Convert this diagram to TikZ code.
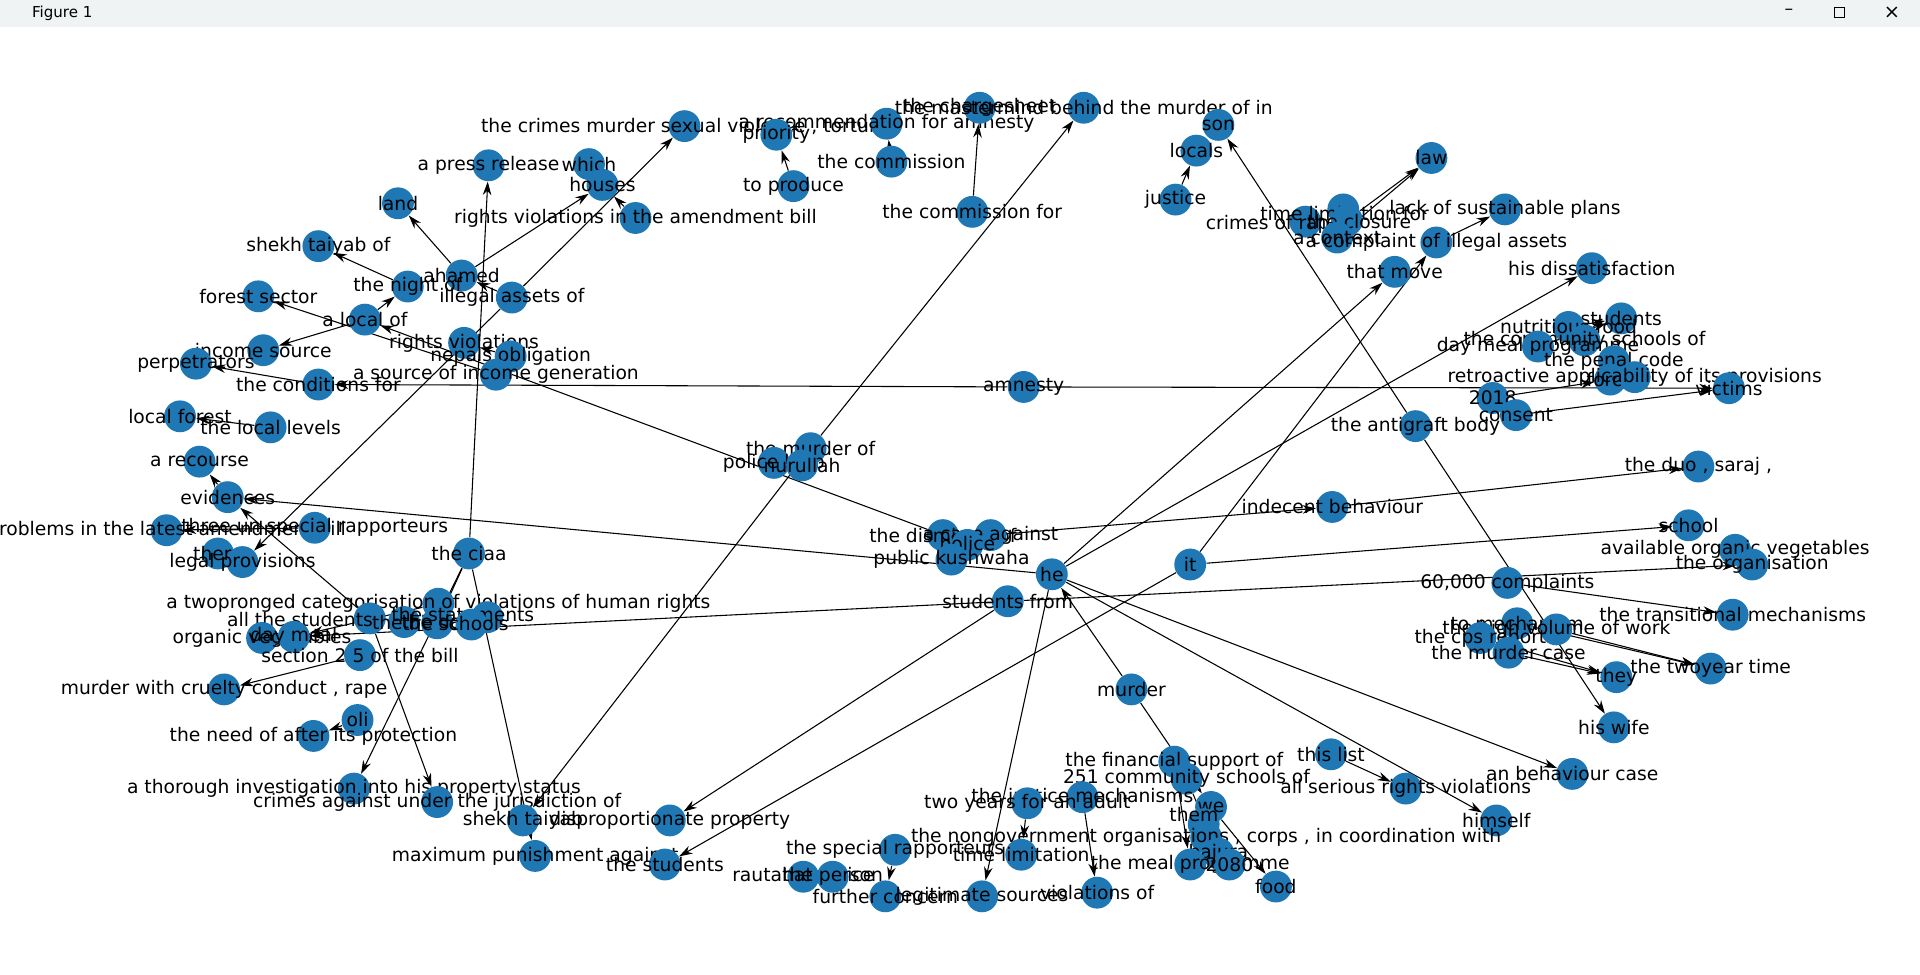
\documentclass[tikz,border=0pt]{standalone}
\usepackage{fontspec}
\setmainfont{DejaVu Sans}
\usetikzlibrary{arrows.meta}
\pgfdeclarelayer{bg}
\pgfdeclarelayer{paper}
\pgfsetlayers{paper,bg,main}
\definecolor{nblue}{HTML}{1F77B4}
\definecolor{tbar}{HTML}{F0F3F3}
\tikzset{
  nd/.style={circle,fill=nblue,draw=none,minimum size=0.52cm,inner sep=0pt},
  lb/.style={font=\fontsize{8.7}{10}\selectfont,inner sep=0pt,text=black},
  ed/.style={-{Stealth[length=0.22cm,width=0.14cm]},line width=0.5pt,black},
}
\newcommand\nd[4]{\node[nd] (#1) at (#2,#3) {};\node[lb] (l#1) at (#2,#3) {#4};}
\newcommand\ndl[6]{\node[nd] (#1) at (#2,#3) {};\node[lb] (l#1) at (#4,#5) {#6};}
\begin{document}
\begin{tikzpicture}[x=0.02cm,y=-0.02cm]
\useasboundingbox (0,0) rectangle (1568,796);
\begin{pgfonlayer}{paper}
\fill[white] (0,0) rectangle (1568,796);
\fill[tbar] (0,0) rectangle (1568,22);
\end{pgfonlayer}
\node[font=\fontsize{7}{8}\selectfont,anchor=west] (ttl) at (20,11) {Figure 1};
\node[font=\fontsize{8}{9}\selectfont] (bmin) at (1461,10) {–};
\node[draw,minimum size=0.16cm,inner sep=0pt,line width=0.4pt] (bmax) at (1502,10) {};
\node[font=\fontsize{9}{10}\selectfont] (bcls) at (1545,10) {×};
\clip (0,22) rectangle (1568,796);
% nodes
\nd{crimes}{559}{103}{the crimes murder sexual violence , torture}
\nd{recom}{724}{101}{a recommendation for amnesty}
\nd{prio}{634}{110}{priority}
\nd{comm}{728}{132}{the commission}
\nd{charge}{800}{88}{the chargesheet}
\nd{master}{885}{88}{the mastermind behind the murder of in}
\nd{press}{399}{135}{a press release}
\nd{which}{481}{134}{which}
\nd{houses}{492}{151}{houses}
\nd{produce}{648}{152}{to produce}
\nd{land}{325}{166}{land}
\nd{rvbill}{519}{178}{rights violations in the amendment bill}
\nd{shekhof}{260}{201}{shekh taiyab of}
\nd{ahamed}{377}{225}{ahamed}
\nd{night}{333}{234}{the night of}
\nd{illegal}{418}{243}{illegal assets of}
\nd{forest}{211}{242}{forest sector}
\nd{local}{298}{261}{a local of}
\nd{income}{215}{286}{income source}
\nd{rv}{379}{280}{rights violations}
\nd{nepal}{417}{291}{nepals obligation}
\nd{perp}{160}{297}{perpetrators}
\nd{source}{405}{306}{a source of income generation}
\nd{cond}{260}{314}{the conditions for}
\nd{lforest}{147}{340}{local forest}
\nd{llevels}{221}{349}{the local levels}
\nd{recourse}{163}{377}{a recourse}
\nd{murderof}{662}{366}{the murder of}
\nd{phelp}{632}{378}{police help}
\nd{nurullah}{655}{380}{nurullah}
\nd{son}{995}{102}{son}
\nd{locals}{977}{123}{locals}
\nd{justice}{960}{163}{justice}
\nd{law}{1169}{129}{law}
\nd{commfor}{794}{173}{the commission for}
\ndl{cr}{1066}{181}{1040}{183}{crimes of rape}
\ndl{tl}{1097}{171}{1098}{174}{time limitation for}
\ndl{clo}{1100}{180}{1110}{181}{the closure}
\nd{ctx}{1092}{194}{a context}
\nd{lack}{1229}{171}{lack of sustainable plans}
\nd{compl}{1173}{198}{a complaint of illegal assets}
\nd{move}{1139}{222}{that move}
\nd{diss}{1300}{219}{his dissatisfaction}
\nd{students}{1324}{260}{students}
\nd{nutri}{1281}{267}{nutritious food}
\nd{cschools}{1294}{278}{the community schools of}
\nd{daymeal}{1256}{283}{day meal programme}
\nd{penal}{1318}{295}{the penal code}
\nd{force}{1315}{310}{force}
\nd{retro}{1335}{308}{retroactive applicability of its provisions}
\nd{victims}{1412}{317}{victims}
\nd{yr}{1219}{325}{2018}
\nd{consent}{1238}{339}{consent}
\nd{amnesty}{836}{316}{amnesty}
\nd{antigraft}{1156}{348}{the antigraft body}
\nd{duo}{1387}{381}{the duo , saraj ,}
\nd{evid}{186}{406}{evidences}
\nd{problems}{136}{433}{problems in the latest amendment bill}
\nd{threeun}{257}{431}{three un special rapporteurs}
\nd{there}{178}{452}{there}
\nd{legal}{198}{459}{legal provisions}
\nd{ciaa}{383}{452}{the ciaa}
\nd{twop}{358}{493}{a twopronged categorisation of violations of human rights}
\ndl{allst}{302}{505}{245}{506}{all the students}
\nd{bill}{330}{508}{the bill}
\nd{day}{357}{509}{the day}
\ndl{statements}{398}{504}{378}{502}{the statements}
\ndl{schools}{385}{510}{372}{509}{the schools}
\nd{orgveg}{214}{521}{organic vegetables}
\nd{dmeal}{240}{520}{day meal}
\nd{sect}{294}{535}{section 2 5 of the bill}
\nd{cruelty}{183}{563}{murder with cruelty conduct , rape}
\nd{oli}{292}{588}{oli}
\nd{need}{256}{601}{the need of after its protection}
\nd{thorough}{289}{644}{a thorough investigation into his property status}
\nd{crimesag}{357}{655}{crimes against under the jurisdiction of}
\nd{shekh}{427}{670}{shekh taiyab}
\nd{disprop}{547}{670}{disproportionate property}
\nd{maxp}{437}{699}{maximum punishment against}
\nd{thestud}{543}{706}{the students}
\nd{specrap}{731}{694}{the special rapporteurs}
\nd{rautahat}{656}{716}{rautahat police}
\nd{person}{680}{716}{the person}
\nd{further}{723}{732}{further concern}
\nd{dismiss}{770}{437}{the dismissal of}
\nd{caseag}{809}{437}{a case against}
\nd{police}{790}{445}{police}
\nd{pubkush}{777}{457}{public kushwaha}
\nd{he}{859}{469}{he}
\nd{it}{972}{461}{it}
\nd{studfrom}{823}{491}{students from}
\nd{indecent}{1088}{414}{indecent behaviour}
\nd{school}{1379}{429}{school}
\nd{avail}{1417}{449}{available organic vegetables}
\nd{org}{1431}{461}{the organisation}
\nd{cs}{1231}{476}{60,000 complaints}
\nd{trans}{1415}{502}{the transitional mechanisms}
\nd{tomech}{1239}{509}{to mechanism}
\nd{highvol}{1271}{514}{the high volume of work}
\nd{cps}{1209}{521}{the cps report}
\nd{mcase}{1232}{533}{the murder case}
\nd{they}{1320}{553}{they}
\nd{twoyear}{1397}{546}{the twoyear time}
\nd{wife}{1318}{594}{his wife}
\nd{murder}{924}{563}{murder}
\nd{fin}{959}{622}{the financial support of}
\nd{cc}{969}{636}{251 community schools of}
\nd{list}{1087}{616}{this list}
\nd{allser}{1148}{644}{all serious rights violations}
\nd{behav}{1284}{632}{an behaviour case}
\nd{himself}{1222}{670}{himself}
\nd{justmech}{884}{651}{the justice mechanisms}
\nd{twoyrs}{839}{656}{two years for an adult}
\nd{we}{989}{659}{we}
\ndl{them}{983}{673}{975}{665}{them}
\nd{ngo}{985}{684}{the nongovernment organisations , corps , in coordination with}
\nd{tlim}{834}{698}{time limitation}
\nd{bajura}{995}{697}{bajura}
\nd{mealprog}{972}{706}{the meal programme}
\nd{ye}{1004}{706}{2080}
\nd{food}{1042}{724}{food}
\nd{violof}{896}{729}{violations of}
\nd{legit}{802}{732}{legitimate sources}
% edges
\begin{pgfonlayer}{bg}
\foreach \s/\t in {night/shekhof, ahamed/land, ahamed/houses, illegal/ahamed, illegal/crimes, illegal/legal, rvbill/houses, ciaa/press, local/income, local/night, nepal/rv, cond/perp, amnesty/cond, amnesty/victims, llevels/lforest, evid/recourse, murderof/master, murderof/shekh, dismiss/local, source/forest, commfor/charge, justice/locals, antigraft/son, antigraft/wife, ctx/law, clo/law, it/compl, compl/lack, he/move, he/diss, nutri/students, daymeal/students, yr/force, consent/victims, caseag/indecent, indecent/duo, he/evid, threeun/problems, allst/evid, ciaa/thorough, ciaa/maxp, ciaa/day, twop/dmeal, studfrom/dmeal, sect/cruelty, oli/need, allst/crimesag, studfrom/disprop, it/thestud, specrap/further, it/school, studfrom/org, cs/trans, tomech/twoyear, highvol/twoyear, mcase/they, cps/they, murder/he, murder/we, fin/mealprog, cc/bajura, we/food, list/allser, he/behav, he/himself, he/legit, twoyrs/tlim, justmech/violof, produce/prio, comm/recom}
  \draw[ed] (\s) -- (\t);
\end{pgfonlayer}
\end{tikzpicture}
\end{document}
